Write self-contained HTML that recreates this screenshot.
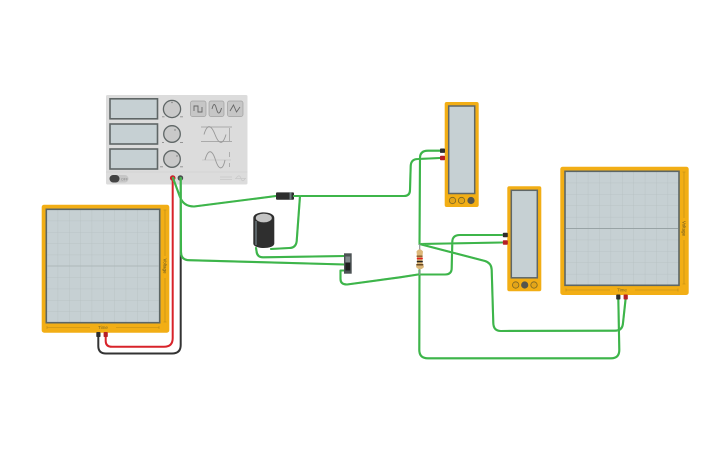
<!DOCTYPE html>
<html><head><meta charset="utf-8"><style>
html,body{margin:0;padding:0;background:#fff;width:725px;height:453px;overflow:hidden}
svg{display:block;font-family:"Liberation Sans",sans-serif}
.w{fill:none;stroke-linecap:round;stroke-linejoin:round}
.g{stroke:#3db54a;stroke-width:2.1;filter:drop-shadow(0 .6px .3px #c4e4c8)}
</style></head><body>
<svg width="725" height="453" viewBox="0 0 725 453" xmlns="http://www.w3.org/2000/svg">
<defs>
<pattern id="p1" patternUnits="userSpaceOnUse" x="46.3" y="209.3" width="11.34" height="11.34"><rect width="11.34" height="11.34" fill="#c6d0d3"/><path d="M0 0V11.34M0 0H11.34" stroke="#b6c0c2" stroke-width=".8" fill="none"/></pattern>
<pattern id="p2" patternUnits="userSpaceOnUse" x="565" y="171.3" width="11.4" height="11.4"><rect width="11.4" height="11.4" fill="#c6d0d3"/><path d="M0 0V11.4M0 0H11.4" stroke="#b6c0c2" stroke-width=".8" fill="none"/></pattern>
</defs>

<!-- Function generator -->
<rect x="106" y="95" width="141.500" height="89.500" rx="1.500" fill="#dcdcdc"/>
<line x1="106" y1="172" x2="247.500" y2="172" stroke="#d2d2d2" stroke-width=".7"/>
<g fill="#c6d0d3" stroke="#5f6666" stroke-width="1.600">
<rect x="110" y="98.800" width="47.500" height="20"/>
<rect x="110" y="124" width="47.500" height="20"/>
<rect x="110" y="149" width="47.500" height="20"/>
</g>
<g fill="#c9c9c9" stroke="#5f6666" stroke-width="1.300">
<circle cx="172" cy="109" r="8.600"/><circle cx="172" cy="134" r="8.300"/><circle cx="172" cy="159" r="8.300"/>
</g>
<g fill="#777"><circle cx="172" cy="102.500" r=".7"/><circle cx="175" cy="130" r=".7"/><circle cx="177" cy="156" r=".7"/>
<rect x="162" y="116.500" width="2.500" height=".7"/><rect x="180" y="116.500" width="3" height=".7"/><rect x="162" y="142" width="2" height=".7"/><rect x="180" y="142" width="3" height=".7"/><rect x="160" y="166.500" width="3" height=".7"/><rect x="180" y="166.500" width="3" height=".7"/></g>
<g fill="#c6c6c6" stroke="#a0a0a0" stroke-width=".7">
<rect x="190.500" y="101" width="15.500" height="15.500" rx="2"/>
<rect x="209" y="101" width="15" height="15.500" rx="2"/>
<rect x="227.500" y="101" width="15.500" height="15.500" rx="2"/>
</g>
<g fill="none" stroke="#666" stroke-width=".9">
<path d="M194 111V106H198V112H202V107"/>
<path d="M212 109C213.500 103 215 103 216.500 109S220 114 221.500 108"/>
<path d="M230 111L233.500 105L236.500 112L240 107"/>
</g>
<g fill="none" stroke="#999" stroke-width=".7">
<path d="M201 127H232M201 141.500H232"/>
<path d="M204 134.500C207 124 211 124 215 134.500S223 145 226 134.500" stroke-width=".9"/>
<path d="M229.500 128V141"/>
<path d="M202 160H231" stroke="#c4c4c4"/>
<path d="M205 160C208 149 212 149 215.500 160S223 170 225 160" stroke-width=".9"/>
<path d="M229.500 152V157M229.500 163V167"/>
<path d="M235 178.500H246M236 178.500C238 175 240 175 241 178.500S244 181 245 178.500" stroke="#c8c8c8"/>
</g>
<path d="M220 177H232M220 179.500H232" stroke="#c8c8c8" stroke-width=".8"/>
<rect x="109.500" y="175" width="19" height="7.500" rx="3.700" fill="#c6c6c6"/>
<rect x="109.500" y="175" width="10" height="7.500" rx="3.700" fill="#444"/>
<text x="121" y="180.500" font-size="3.500" fill="#888">OFF</text>
<circle cx="172.700" cy="178" r="2.800" fill="#c8232a"/>
<circle cx="180.400" cy="178" r="2.800" fill="#4a4f4f"/>

<!-- Scope 1 -->
<rect x="41.700" y="204.700" width="127.600" height="128" rx="2.500" fill="#f2ae15"/>
<rect x="46.300" y="209.300" width="113.400" height="113.400" fill="url(#p1)" stroke="#5c6666" stroke-width="1.600"/>
<path d="M47 266H159" stroke="#adb8ba" stroke-width="1" fill="none"/>
<g fill="none" stroke="#b98a18" stroke-width=".6">
<path d="M47 327.500H90M116 327.500H159M47 326V329M159 326V329"/>
<path d="M165 210V256M165 278V322M163.500 210H166.500M163.500 322H166.500"/>
</g>
<text x="103" y="329" font-size="4.500" fill="#7a6728" text-anchor="middle">Time</text>
<text x="165" y="266" font-size="4.500" fill="#5b4d22" text-anchor="middle" transform="rotate(90 165 266) translate(0 1.500)">Voltage</text>

<!-- Scope 2 -->
<rect x="560.300" y="166.700" width="128.400" height="128.300" rx="2.500" fill="#f2ae15"/>
<rect x="565" y="171.300" width="114" height="114" fill="url(#p2)" stroke="#5c6666" stroke-width="1.600"/>
<path d="M566 228.500H678" stroke="#98a3a5" stroke-width="1" fill="none"/>
<g fill="none" stroke="#b98a18" stroke-width=".6">
<path d="M566 290H610M635 290H678M566 288.500V291.500M678 288.500V291.500"/>
<path d="M684 172V218M684 240V284M682.500 172H685.500M682.500 284H685.500"/>
</g>
<text x="622" y="291.500" font-size="4.500" fill="#7a6728" text-anchor="middle">Time</text>
<text x="684" y="228.500" font-size="4.500" fill="#5b4d22" text-anchor="middle" transform="rotate(90 684 228.500) translate(0 1.500)">Voltage</text>

<!-- Multimeter 1 -->
<rect x="444.700" y="102" width="34" height="105" rx="2" fill="#f2ae15"/>
<rect x="448.700" y="106" width="26" height="87.500" fill="#c6d0d3" stroke="#5f6666" stroke-width="1.500"/>
<g stroke="#7a6525" stroke-width=".8" fill="#e2a51a"><circle cx="452.500" cy="200.500" r="3.200"/><circle cx="461.500" cy="200.500" r="3.200"/></g>
<circle cx="471" cy="200.500" r="3.600" fill="#55554d"/>
<!-- Multimeter 2 -->
<rect x="507.300" y="186.300" width="34" height="105" rx="2" fill="#f2ae15"/>
<rect x="511.300" y="190.300" width="26" height="87.500" fill="#c6d0d3" stroke="#5f6666" stroke-width="1.500"/>
<g stroke="#7a6525" stroke-width=".8" fill="#e2a51a"><circle cx="515.700" cy="285" r="3.200"/><circle cx="534" cy="285" r="3.200"/></g>
<circle cx="524.700" cy="285" r="3.600" fill="#55554d"/>

<!-- Capacitor -->
<path d="M253.300 218C253.300 210.500 274.300 210.500 274.300 218V243.500C274.300 249.500 253.300 249.500 253.300 243.500Z" fill="#2f2f2f"/>
<ellipse cx="263.800" cy="218" rx="8" ry="4.400" fill="#c4c4c4"/>
<rect x="255" y="221" width="2" height="24" fill="#5b6468"/>

<!-- Wires: scope 1 -->
<path class="w" stroke="#d8232a" stroke-width="2" d="M172.700 178V338Q172.700 346.800 164 346.800H112Q105.700 346.800 105.700 341V335"/>
<path class="w" stroke="#333" stroke-width="2" d="M180.700 178V345Q180.700 353.500 172 353.500H106Q98.300 353.500 98.300 346V335"/>
<rect x="96.300" y="332" width="4.200" height="5" rx=".8" fill="#2e2e2e"/>
<rect x="103.600" y="332" width="4.200" height="5" rx=".8" fill="#b52026"/>

<!-- Diode -->
<path class="w g" d="M173 178L180 197Q183.500 206.500 194 206.500L276 196"/>
<path class="w g" d="M180.700 178L181 252Q181 260 189 260.200L345 264.500"/>
<rect x="276" y="192.400" width="18" height="7.300" rx="1" fill="#2e2e2e"/>
<rect x="289.500" y="192.400" width="2" height="7.300" fill="#6d7a80"/>

<!-- right net -->
<path class="w g" d="M294 196H404Q410 196 410 190L410.700 166Q411 159 418 159L440 158"/>
<path class="w g" d="M300 196L296.700 241Q296 248 289 248L271 249"/>
<path class="w g" d="M256 248L256.500 251Q257 257.300 263 257.300L345 256"/>
<path class="w g" d="M345 270.500H340.500V279Q340.500 284.500 347 284.500L400 277.300L418 274.500H445Q451.700 274.500 451.700 268L452.300 242Q452.300 235 460 235L502 235"/>
<path class="w g" d="M419.500 244L420 158Q420 150.700 428 150.700L440 150.700"/>
<path class="w g" d="M419.500 244L502 242.500"/>
<path class="w g" d="M419.500 244L485 261Q491.500 263 491.700 270L493.300 323Q493.500 331 501 331L615 330.700Q622.500 330.700 623 323L625.700 298"/>
<path class="w g" d="M419.500 270L419.300 350Q419.300 358.300 428 358.300H611Q619.300 358.300 619.300 350L618.300 298"/>

<!-- Switch -->
<rect x="344" y="253.300" width="7.700" height="20.400" fill="#4c5254"/>
<rect x="345.400" y="256.500" width="4.800" height="6" fill="#828a8c"/>
<rect x="345.400" y="262.500" width="4.800" height="8" fill="#1e1e1e"/>

<!-- Resistor -->
<path d="M419.700 244V250M419.700 268V275" stroke="#8d9597" stroke-width="1.200"/>
<path d="M416.500 251.500Q419.700 247 423 251.500L422.500 256V263L424 267Q420 271.500 416 267L417 263V256Z" fill="#dcb778"/>
<rect x="416.600" y="255.500" width="6" height="1.400" fill="#8a5a2a"/>
<rect x="416.800" y="257.700" width="6" height="1.600" fill="#e01f1f"/>
<rect x="416.800" y="260.800" width="6" height="1.500" fill="#222"/>
<rect x="416.300" y="264" width="7" height="1.500" fill="#6b4a24"/>

<!-- Terminals -->
<g>
<rect x="440" y="148.500" width="5" height="4.400" rx=".8" fill="#2e2e2e"/>
<rect x="440" y="155.800" width="5" height="4.400" rx=".8" fill="#b52026"/>
<rect x="502.800" y="232.800" width="5" height="4.400" rx=".8" fill="#2e2e2e"/>
<rect x="502.800" y="240.300" width="5" height="4.400" rx=".8" fill="#b52026"/>
<rect x="616.200" y="294.500" width="4.200" height="5" rx=".8" fill="#2e2e2e"/>
<rect x="623.600" y="294.500" width="4.200" height="5" rx=".8" fill="#b52026"/>
</g>
</svg>
</body></html>
